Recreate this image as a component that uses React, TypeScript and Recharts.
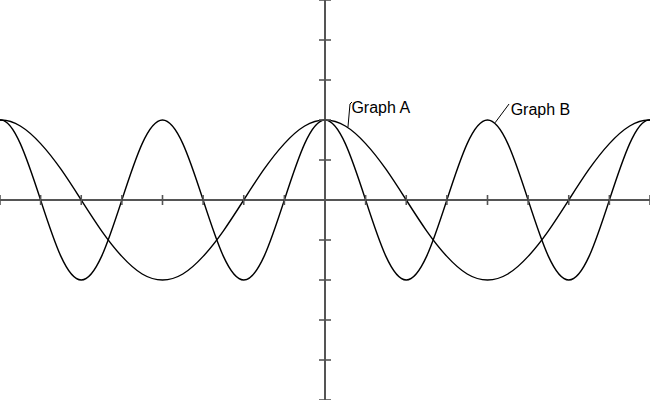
import { ComposedChart, Line, ReferenceDot, ReferenceLine, Scatter, XAxis, YAxis } from "recharts";

// x is measured in steps of π/8, so the plot runs from -2π (-16) to 2π (16).
// One extra step on each side keeps the curves smooth at the clipped edges.
const xSteps = [
  -17, -16, -15, -14, -13, -12, -11, -10, -9, -8, -7, -6, -5, -4, -3, -2, -1,
  0, 1, 2, 3, 4, 5, 6, 7, 8, 9, 10, 11, 12, 13, 14, 15, 16, 17,
];

// Graph A: the slow wave (one crest at 0, troughs at ±π).
const graphA = [
  1.85, 2, 1.85, 1.41, 0.77, 0, -0.77, -1.41, -1.85, -2, -1.85, -1.41, -0.77, 0, 0.77, 1.41, 1.85,
  2, 1.85, 1.41, 0.77, 0, -0.77, -1.41, -1.85, -2, -1.85, -1.41, -0.77, 0, 0.77, 1.41, 1.85, 2, 1.85,
];

// Graph B: the fast wave (crests every π).
const graphB = [
  1.41, 2, 1.41, 0, -1.41, -2, -1.41, 0, 1.41, 2, 1.41, 0, -1.41, -2, -1.41, 0, 1.41,
  2, 1.41, 0, -1.41, -2, -1.41, 0, 1.41, 2, 1.41, 0, -1.41, -2, -1.41, 0, 1.41, 2, 1.41,
];

const xTicks = [-16, -14, -12, -10, -8, -6, -4, -2, 2, 4, 6, 8, 10, 12, 14, 16];
const yTicks = [-5, -4, -3, -2, -1, 1, 2, 3, 4, 5];

const rows = xSteps.map((x, i) => ({ x, a: graphA[i], b: graphB[i] }));
const xTickPoints = xTicks.map((x) => ({ x, y: 0 }));
const yTickPoints = yTicks.map((y) => ({ x: 0, y }));

const AXIS = "#555";
const FONT = "'Liberation Sans', Arial, sans-serif";

function XTickMark(props: any) {
  const { cx, cy } = props;
  return <line x1={cx} x2={cx} y1={cy - 5} y2={cy + 5} stroke={AXIS} strokeWidth={1.6} />;
}

function YTickMark(props: any) {
  const { cx, cy } = props;
  return <line x1={cx - 6} x2={cx + 6} y1={cy} y2={cy} stroke={AXIS} strokeWidth={1.6} />;
}

function labelShape(text: string) {
  return (props: any) => (
    <text x={props.cx} y={props.cy} fontFamily={FONT} fontSize={16} fill="#000">
      {text}
    </text>
  );
}

export default function App() {
  return (
    <div style={{ position: "absolute", top: 0, left: 0, background: "#fff" }}>
      <ComposedChart width={650} height={400} data={rows} margin={{ top: 0, right: 0, bottom: 0, left: 0 }}>
        <XAxis dataKey="x" type="number" domain={[-16, 16]} allowDataOverflow hide />
        <YAxis type="number" domain={[-5, 5]} allowDataOverflow hide />

        <ReferenceLine y={0} stroke={AXIS} strokeWidth={2} />
        <ReferenceLine x={0} stroke={AXIS} strokeWidth={2} />

        <Scatter data={xTickPoints} dataKey="y" shape={XTickMark} isAnimationActive={false} />
        <Scatter data={yTickPoints} dataKey="y" shape={YTickMark} isAnimationActive={false} />

        <Line type="natural" dataKey="a" stroke="#000" strokeWidth={1.4} dot={false} activeDot={false} isAnimationActive={false} />
        <Line type="natural" dataKey="b" stroke="#000" strokeWidth={1.4} dot={false} activeDot={false} isAnimationActive={false} />

        {/* leader lines and names */}
        <ReferenceLine segment={[{ x: 1.13, y: 1.82 }, { x: 1.23, y: 2.4 }]} stroke="#000" strokeWidth={1} />
        <ReferenceLine segment={[{ x: 1.23, y: 2.4 }, { x: 1.33, y: 2.45 }]} stroke="#000" strokeWidth={1} />
        <ReferenceLine segment={[{ x: 8.37, y: 1.93 }, { x: 9.06, y: 2.4 }]} stroke="#000" strokeWidth={1} />
        <ReferenceDot x={1.3} y={2.175} r={0} shape={labelShape("Graph A")} />
        <ReferenceDot x={9.14} y={2.125} r={0} shape={labelShape("Graph B")} />
      </ComposedChart>
    </div>
  );
}
